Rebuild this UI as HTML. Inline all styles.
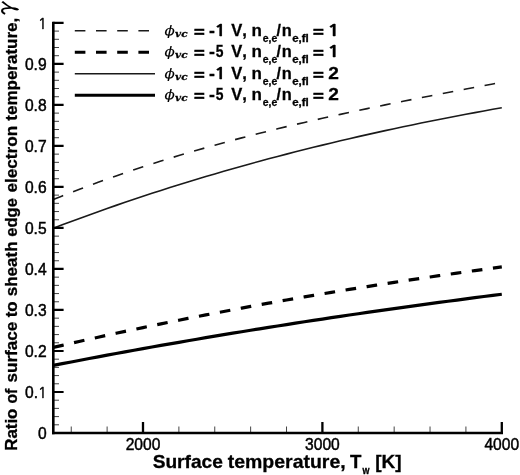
<!DOCTYPE html>
<html><head><meta charset="utf-8"><style>
html,body{margin:0;padding:0;background:#fff;}
svg{display:block;}
text{fill:#000;stroke:#000;stroke-width:0.3px;font-variant-ligatures:none;font-kerning:none;}
.c{fill:none;stroke-linejoin:round;}
.tl{font-family:"Liberation Sans",Arial,sans-serif;font-size:15.6px;stroke-width:0.45px;}
</style></head><body>
<svg width="520" height="475" viewBox="0 0 520 475">
<rect width="520" height="475" fill="#fff"/>
<polyline class="c" points="53.30,199.53 62.27,195.94 71.24,192.43 80.21,188.99 89.18,185.62 98.15,182.32 107.12,179.09 116.09,175.93 125.06,172.84 134.03,169.80 143.00,166.84 151.97,163.93 160.94,161.08 169.91,158.29 178.88,155.56 187.85,152.88 196.82,150.26 205.79,147.68 214.76,145.16 223.73,142.69 232.70,140.27 241.67,137.89 250.64,135.56 259.61,133.27 268.58,131.02 277.55,128.81 286.52,126.64 295.49,124.51 304.46,122.41 313.43,120.35 322.40,118.32 331.37,116.32 340.34,114.35 349.31,112.41 358.28,110.49 367.25,108.60 376.22,106.74 385.19,104.89 394.16,103.07 403.13,101.27 412.10,99.48 421.07,97.71 430.04,95.96 439.01,94.21 447.98,92.48 456.95,90.76 465.92,89.05 474.89,87.34 483.86,85.65 492.83,83.95 501.80,82.26" stroke-width="1.6" stroke="#1a1a1a" stroke-dasharray="10.64 10.64"/>
<polyline class="c" points="53.30,228.24 62.27,224.83 71.24,221.46 80.21,218.15 89.18,214.89 98.15,211.67 107.12,208.50 116.09,205.37 125.06,202.29 134.03,199.26 143.00,196.27 151.97,193.32 160.94,190.42 169.91,187.56 178.88,184.74 187.85,181.97 196.82,179.24 205.79,176.55 214.76,173.90 223.73,171.29 232.70,168.72 241.67,166.19 250.64,163.70 259.61,161.24 268.58,158.83 277.55,156.45 286.52,154.11 295.49,151.80 304.46,149.53 313.43,147.30 322.40,145.10 331.37,142.94 340.34,140.81 349.31,138.71 358.28,136.65 367.25,134.61 376.22,132.61 385.19,130.65 394.16,128.71 403.13,126.80 412.10,124.93 421.07,123.08 430.04,121.27 439.01,119.48 447.98,117.72 456.95,115.98 465.92,114.28 474.89,112.60 483.86,110.95 492.83,109.32 501.80,107.72" stroke-width="1.6" stroke="#1a1a1a"/>
<polyline class="c" points="53.30,347.41 62.27,345.33 71.24,343.27 80.21,341.23 89.18,339.21 98.15,337.22 107.12,335.24 116.09,333.29 125.06,331.36 134.03,329.45 143.00,327.56 151.97,325.69 160.94,323.84 169.91,322.01 178.88,320.21 187.85,318.42 196.82,316.65 205.79,314.90 214.76,313.17 223.73,311.46 232.70,309.77 241.67,308.10 250.64,306.44 259.61,304.81 268.58,303.19 277.55,301.59 286.52,300.01 295.49,298.44 304.46,296.90 313.43,295.37 322.40,293.86 331.37,292.36 340.34,290.88 349.31,289.42 358.28,287.98 367.25,286.55 376.22,285.13 385.19,283.74 394.16,282.36 403.13,280.99 412.10,279.64 421.07,278.30 430.04,276.98 439.01,275.68 447.98,274.39 456.95,273.11 465.92,271.85 474.89,270.60 483.86,269.36 492.83,268.14 501.80,266.94" stroke="#000" stroke-width="3.2" stroke-dasharray="10.64 10.64"/>
<polyline class="c" points="53.30,365.42 62.27,363.68 71.24,361.95 80.21,360.24 89.18,358.54 98.15,356.86 107.12,355.18 116.09,353.53 125.06,351.88 134.03,350.25 143.00,348.63 151.97,347.03 160.94,345.44 169.91,343.87 178.88,342.30 187.85,340.75 196.82,339.22 205.79,337.69 214.76,336.18 223.73,334.69 232.70,333.20 241.67,331.73 250.64,330.27 259.61,328.83 268.58,327.39 277.55,325.97 286.52,324.56 295.49,323.16 304.46,321.78 313.43,320.41 322.40,319.05 331.37,317.70 340.34,316.36 349.31,315.04 358.28,313.73 367.25,312.42 376.22,311.13 385.19,309.86 394.16,308.59 403.13,307.33 412.10,306.09 421.07,304.86 430.04,303.64 439.01,302.42 447.98,301.22 456.95,300.04 465.92,298.86 474.89,297.69 483.86,296.53 492.83,295.39 501.80,294.25" stroke="#000" stroke-width="3.2"/>
<path d="M53.30 433.00H63.6 M53.30 391.99H63.6 M53.30 350.98H63.6 M53.30 309.97H63.6 M53.30 268.96H63.6 M53.30 227.95H63.6 M53.30 186.94H63.6 M53.30 145.93H63.6 M53.30 104.92H63.6 M53.30 63.91H63.6 M53.30 22.90H63.6" stroke="#000" stroke-width="2.2"/>
<path d="M53.30 424.80H59 M53.30 416.60H59 M53.30 408.39H59 M53.30 400.19H59 M53.30 383.79H59 M53.30 375.59H59 M53.30 367.38H59 M53.30 359.18H59 M53.30 342.78H59 M53.30 334.58H59 M53.30 326.37H59 M53.30 318.17H59 M53.30 301.77H59 M53.30 293.57H59 M53.30 285.36H59 M53.30 277.16H59 M53.30 260.76H59 M53.30 252.56H59 M53.30 244.35H59 M53.30 236.15H59 M53.30 219.75H59 M53.30 211.55H59 M53.30 203.34H59 M53.30 195.14H59 M53.30 178.74H59 M53.30 170.54H59 M53.30 162.33H59 M53.30 154.13H59 M53.30 137.73H59 M53.30 129.53H59 M53.30 121.32H59 M53.30 113.12H59 M53.30 96.72H59 M53.30 88.52H59 M53.30 80.31H59 M53.30 72.11H59 M53.30 55.71H59 M53.30 47.51H59 M53.30 39.30H59 M53.30 31.10H59 M71.24 433.00V426.5 M107.12 433.00V426.5 M178.88 433.00V426.5 M214.76 433.00V426.5 M250.64 433.00V426.5 M286.52 433.00V426.5 M358.28 433.00V426.5 M394.16 433.00V426.5 M430.04 433.00V426.5 M465.92 433.00V426.5" stroke="#444" stroke-width="1.0"/>
<path d="M143.00 433.00V422 M322.40 433.00V422 M501.80 433.00V422" stroke="#000" stroke-width="2.3"/>
<path d="M53.30 21.8V434.2" stroke="#000" stroke-width="2.6"/>
<path d="M52 433.0H503" stroke="#000" stroke-width="2.5"/>
<text x="46.6" y="439.40" text-anchor="end" class="tl">0</text>
<text x="47.0" y="398.39" text-anchor="end" class="tl">0.<tspan style="font-family:NanumGothic,sans-serif;font-size:14.7px">1</tspan></text>
<text x="46.6" y="357.38" text-anchor="end" class="tl">0.2</text>
<text x="46.6" y="316.37" text-anchor="end" class="tl">0.3</text>
<text x="46.6" y="275.36" text-anchor="end" class="tl">0.4</text>
<text x="46.6" y="234.35" text-anchor="end" class="tl">0.5</text>
<text x="46.6" y="193.34" text-anchor="end" class="tl">0.6</text>
<text x="46.6" y="152.33" text-anchor="end" class="tl">0.7</text>
<text x="46.6" y="111.32" text-anchor="end" class="tl">0.8</text>
<text x="46.6" y="70.31" text-anchor="end" class="tl">0.9</text>
<text x="47.0" y="29.30" text-anchor="end" class="tl"><tspan style="font-family:NanumGothic,sans-serif;font-size:14.7px">1</tspan></text>
<text x="143.00" y="450.3" text-anchor="middle" class="tl">2000</text>
<text x="322.40" y="450.3" text-anchor="middle" class="tl">3000</text>
<text x="501.80" y="450.3" text-anchor="middle" class="tl">4000</text>
<text><tspan x="152.65" y="468.20" textLength="70.21" lengthAdjust="spacingAndGlyphs" style="font-family:'Liberation Sans',Arial,sans-serif;font-weight:bold;font-size:18.5px;">Surface</tspan> <tspan x="227.76" y="468.20" textLength="117.94" lengthAdjust="spacingAndGlyphs" style="font-family:'Liberation Sans',Arial,sans-serif;font-weight:bold;font-size:18.5px;">temperature,</tspan> <tspan x="350.09" y="468.20" textLength="11.41" lengthAdjust="spacingAndGlyphs" style="font-family:'Liberation Sans',Arial,sans-serif;font-weight:bold;font-size:18.5px;">T</tspan><tspan x="362.53" y="473.60" textLength="6.96" lengthAdjust="spacingAndGlyphs" style="font-family:'Liberation Sans',Arial,sans-serif;font-weight:bold;font-size:10px;">w</tspan> <tspan x="375.23" y="468.20" textLength="26.44" lengthAdjust="spacingAndGlyphs" style="font-family:'Liberation Sans',Arial,sans-serif;font-weight:bold;font-size:18.5px;">[K]</tspan></text>
<g transform="rotate(-90)"><text><tspan x="-450.78" y="17.05" textLength="42.19" lengthAdjust="spacingAndGlyphs" style="font-family:'Liberation Sans',Arial,sans-serif;font-weight:bold;font-size:17px;">Ratio</tspan> <tspan x="-403.46" y="17.05" textLength="14.78" lengthAdjust="spacingAndGlyphs" style="font-family:'Liberation Sans',Arial,sans-serif;font-weight:bold;font-size:17px;">of</tspan> <tspan x="-382.55" y="17.05" textLength="60.89" lengthAdjust="spacingAndGlyphs" style="font-family:'Liberation Sans',Arial,sans-serif;font-weight:bold;font-size:17px;">surface</tspan> <tspan x="-317.36" y="17.05" textLength="15.97" lengthAdjust="spacingAndGlyphs" style="font-family:'Liberation Sans',Arial,sans-serif;font-weight:bold;font-size:17px;">to</tspan> <tspan x="-296.25" y="17.05" textLength="54.85" lengthAdjust="spacingAndGlyphs" style="font-family:'Liberation Sans',Arial,sans-serif;font-weight:bold;font-size:17px;">sheath</tspan> <tspan x="-236.69" y="17.05" textLength="38.51" lengthAdjust="spacingAndGlyphs" style="font-family:'Liberation Sans',Arial,sans-serif;font-weight:bold;font-size:17px;">edge</tspan> <tspan x="-192.62" y="17.05" textLength="66.73" lengthAdjust="spacingAndGlyphs" style="font-family:'Liberation Sans',Arial,sans-serif;font-weight:bold;font-size:17px;">electron</tspan> <tspan x="-120.76" y="17.05" textLength="103.05" lengthAdjust="spacingAndGlyphs" style="font-family:'Liberation Sans',Arial,sans-serif;font-weight:bold;font-size:17px;">temperature,</tspan> <tspan x="-19.50" y="16.34" textLength="23.35" lengthAdjust="spacingAndGlyphs" style="font-family:'IPAGothic','DejaVu Serif',serif;stroke-width:0;font-size:26.5px;">γ</tspan></text></g>
<path d="M74.8 30.80H155" stroke="#1a1a1a" stroke-width="1.6" stroke-dasharray="10.6 10.6"/>
<text><tspan x="164.49" y="35.05" textLength="10.34" lengthAdjust="spacingAndGlyphs" style="font-family:'DejaVu Serif',serif;font-style:italic;stroke-width:0.1px;font-size:13.5px;">ϕ</tspan><tspan x="175.08" y="36.75" textLength="12.49" lengthAdjust="spacingAndGlyphs" style="font-family:'DejaVu Serif',serif;font-weight:bold;font-style:italic;font-size:10px;">vc</tspan> <tspan x="194.14" y="36.75" textLength="10.71" lengthAdjust="spacingAndGlyphs" style="font-family:'Liberation Sans',Arial,sans-serif;font-weight:bold;font-size:15px;stroke-width:0.6px">=</tspan> <tspan x="209.11" y="35.95" textLength="5.90" lengthAdjust="spacingAndGlyphs" style="font-family:'Liberation Sans',Arial,sans-serif;font-weight:bold;font-size:17px;">-</tspan><tspan x="214.13" y="35.95" textLength="12.58" lengthAdjust="spacingAndGlyphs" style="font-family:'NanumGothic','Liberation Sans',sans-serif;font-weight:bold;font-size:15.45px;">1</tspan> <tspan x="231.19" y="35.95" textLength="15.62" lengthAdjust="spacingAndGlyphs" style="font-family:'Liberation Sans',Arial,sans-serif;font-weight:bold;font-size:17px;">V,</tspan> <tspan x="251.38" y="35.95" textLength="10.37" lengthAdjust="spacingAndGlyphs" style="font-family:'Liberation Sans',Arial,sans-serif;font-weight:bold;font-size:17px;">n</tspan><tspan x="262.79" y="41.75" textLength="14.57" lengthAdjust="spacingAndGlyphs" style="font-family:'Liberation Sans',Arial,sans-serif;font-weight:bold;font-size:10px;">e,e</tspan><tspan x="276.44" y="35.95" textLength="4.41" lengthAdjust="spacingAndGlyphs" style="font-family:'Liberation Sans',Arial,sans-serif;font-weight:bold;font-size:17px;">/</tspan><tspan x="281.72" y="35.95" textLength="9.99" lengthAdjust="spacingAndGlyphs" style="font-family:'Liberation Sans',Arial,sans-serif;font-weight:bold;font-size:17px;">n</tspan><tspan x="292.15" y="41.75" textLength="16.67" lengthAdjust="spacingAndGlyphs" style="font-family:'Liberation Sans',Arial,sans-serif;font-weight:bold;font-size:10px;">e,fl</tspan> <tspan x="312.93" y="36.75" textLength="10.83" lengthAdjust="spacingAndGlyphs" style="font-family:'Liberation Sans',Arial,sans-serif;font-weight:bold;font-size:15px;stroke-width:0.6px">=</tspan> <tspan x="327.08" y="35.95" textLength="13.30" lengthAdjust="spacingAndGlyphs" style="font-family:'NanumGothic','Liberation Sans',sans-serif;font-weight:bold;font-size:15.45px;">1</tspan></text>
<path d="M74.8 52.20H155" stroke="#000" stroke-width="3.1" stroke-dasharray="10.6 10.6"/>
<text><tspan x="164.49" y="56.45" textLength="10.34" lengthAdjust="spacingAndGlyphs" style="font-family:'DejaVu Serif',serif;font-style:italic;stroke-width:0.1px;font-size:13.5px;">ϕ</tspan><tspan x="175.08" y="58.15" textLength="12.49" lengthAdjust="spacingAndGlyphs" style="font-family:'DejaVu Serif',serif;font-weight:bold;font-style:italic;font-size:10px;">vc</tspan> <tspan x="194.14" y="58.15" textLength="10.71" lengthAdjust="spacingAndGlyphs" style="font-family:'Liberation Sans',Arial,sans-serif;font-weight:bold;font-size:15px;stroke-width:0.6px">=</tspan> <tspan x="209.11" y="57.35" textLength="5.90" lengthAdjust="spacingAndGlyphs" style="font-family:'Liberation Sans',Arial,sans-serif;font-weight:bold;font-size:17px;">-</tspan><tspan x="215.87" y="57.35" textLength="7.71" lengthAdjust="spacingAndGlyphs" style="font-family:'Liberation Sans',Arial,sans-serif;font-weight:bold;font-size:17px;">5</tspan> <tspan x="231.19" y="57.35" textLength="15.62" lengthAdjust="spacingAndGlyphs" style="font-family:'Liberation Sans',Arial,sans-serif;font-weight:bold;font-size:17px;">V,</tspan> <tspan x="251.38" y="57.35" textLength="10.37" lengthAdjust="spacingAndGlyphs" style="font-family:'Liberation Sans',Arial,sans-serif;font-weight:bold;font-size:17px;">n</tspan><tspan x="262.79" y="63.15" textLength="14.57" lengthAdjust="spacingAndGlyphs" style="font-family:'Liberation Sans',Arial,sans-serif;font-weight:bold;font-size:10px;">e,e</tspan><tspan x="276.44" y="57.35" textLength="4.41" lengthAdjust="spacingAndGlyphs" style="font-family:'Liberation Sans',Arial,sans-serif;font-weight:bold;font-size:17px;">/</tspan><tspan x="281.72" y="57.35" textLength="9.99" lengthAdjust="spacingAndGlyphs" style="font-family:'Liberation Sans',Arial,sans-serif;font-weight:bold;font-size:17px;">n</tspan><tspan x="292.15" y="63.15" textLength="16.67" lengthAdjust="spacingAndGlyphs" style="font-family:'Liberation Sans',Arial,sans-serif;font-weight:bold;font-size:10px;">e,fl</tspan> <tspan x="312.93" y="58.15" textLength="10.83" lengthAdjust="spacingAndGlyphs" style="font-family:'Liberation Sans',Arial,sans-serif;font-weight:bold;font-size:15px;stroke-width:0.6px">=</tspan> <tspan x="327.08" y="57.35" textLength="13.30" lengthAdjust="spacingAndGlyphs" style="font-family:'NanumGothic','Liberation Sans',sans-serif;font-weight:bold;font-size:15.45px;">1</tspan></text>
<path d="M74.8 73.80H155" stroke="#1a1a1a" stroke-width="1.6" />
<text><tspan x="164.49" y="77.90" textLength="10.34" lengthAdjust="spacingAndGlyphs" style="font-family:'DejaVu Serif',serif;font-style:italic;stroke-width:0.1px;font-size:13.5px;">ϕ</tspan><tspan x="175.08" y="79.60" textLength="12.49" lengthAdjust="spacingAndGlyphs" style="font-family:'DejaVu Serif',serif;font-weight:bold;font-style:italic;font-size:10px;">vc</tspan> <tspan x="194.14" y="79.60" textLength="10.71" lengthAdjust="spacingAndGlyphs" style="font-family:'Liberation Sans',Arial,sans-serif;font-weight:bold;font-size:15px;stroke-width:0.6px">=</tspan> <tspan x="209.11" y="78.80" textLength="5.90" lengthAdjust="spacingAndGlyphs" style="font-family:'Liberation Sans',Arial,sans-serif;font-weight:bold;font-size:17px;">-</tspan><tspan x="214.13" y="78.80" textLength="12.58" lengthAdjust="spacingAndGlyphs" style="font-family:'NanumGothic','Liberation Sans',sans-serif;font-weight:bold;font-size:15.45px;">1</tspan> <tspan x="231.19" y="78.80" textLength="15.62" lengthAdjust="spacingAndGlyphs" style="font-family:'Liberation Sans',Arial,sans-serif;font-weight:bold;font-size:17px;">V,</tspan> <tspan x="251.38" y="78.80" textLength="10.37" lengthAdjust="spacingAndGlyphs" style="font-family:'Liberation Sans',Arial,sans-serif;font-weight:bold;font-size:17px;">n</tspan><tspan x="262.79" y="84.60" textLength="14.57" lengthAdjust="spacingAndGlyphs" style="font-family:'Liberation Sans',Arial,sans-serif;font-weight:bold;font-size:10px;">e,e</tspan><tspan x="276.44" y="78.80" textLength="4.41" lengthAdjust="spacingAndGlyphs" style="font-family:'Liberation Sans',Arial,sans-serif;font-weight:bold;font-size:17px;">/</tspan><tspan x="281.72" y="78.80" textLength="9.99" lengthAdjust="spacingAndGlyphs" style="font-family:'Liberation Sans',Arial,sans-serif;font-weight:bold;font-size:17px;">n</tspan><tspan x="292.15" y="84.60" textLength="16.67" lengthAdjust="spacingAndGlyphs" style="font-family:'Liberation Sans',Arial,sans-serif;font-weight:bold;font-size:10px;">e,fl</tspan> <tspan x="312.93" y="79.60" textLength="10.83" lengthAdjust="spacingAndGlyphs" style="font-family:'Liberation Sans',Arial,sans-serif;font-weight:bold;font-size:15px;stroke-width:0.6px">=</tspan> <tspan x="328.34" y="78.80" textLength="10.63" lengthAdjust="spacingAndGlyphs" style="font-family:'Liberation Sans',Arial,sans-serif;font-weight:bold;font-size:17px;">2</tspan></text>
<path d="M74.8 95.20H155" stroke="#000" stroke-width="3.1" />
<text><tspan x="164.49" y="99.30" textLength="10.34" lengthAdjust="spacingAndGlyphs" style="font-family:'DejaVu Serif',serif;font-style:italic;stroke-width:0.1px;font-size:13.5px;">ϕ</tspan><tspan x="175.08" y="101.00" textLength="12.49" lengthAdjust="spacingAndGlyphs" style="font-family:'DejaVu Serif',serif;font-weight:bold;font-style:italic;font-size:10px;">vc</tspan> <tspan x="194.14" y="101.00" textLength="10.71" lengthAdjust="spacingAndGlyphs" style="font-family:'Liberation Sans',Arial,sans-serif;font-weight:bold;font-size:15px;stroke-width:0.6px">=</tspan> <tspan x="209.11" y="100.20" textLength="5.90" lengthAdjust="spacingAndGlyphs" style="font-family:'Liberation Sans',Arial,sans-serif;font-weight:bold;font-size:17px;">-</tspan><tspan x="215.87" y="100.20" textLength="7.71" lengthAdjust="spacingAndGlyphs" style="font-family:'Liberation Sans',Arial,sans-serif;font-weight:bold;font-size:17px;">5</tspan> <tspan x="231.19" y="100.20" textLength="15.62" lengthAdjust="spacingAndGlyphs" style="font-family:'Liberation Sans',Arial,sans-serif;font-weight:bold;font-size:17px;">V,</tspan> <tspan x="251.38" y="100.20" textLength="10.37" lengthAdjust="spacingAndGlyphs" style="font-family:'Liberation Sans',Arial,sans-serif;font-weight:bold;font-size:17px;">n</tspan><tspan x="262.79" y="106.00" textLength="14.57" lengthAdjust="spacingAndGlyphs" style="font-family:'Liberation Sans',Arial,sans-serif;font-weight:bold;font-size:10px;">e,e</tspan><tspan x="276.44" y="100.20" textLength="4.41" lengthAdjust="spacingAndGlyphs" style="font-family:'Liberation Sans',Arial,sans-serif;font-weight:bold;font-size:17px;">/</tspan><tspan x="281.72" y="100.20" textLength="9.99" lengthAdjust="spacingAndGlyphs" style="font-family:'Liberation Sans',Arial,sans-serif;font-weight:bold;font-size:17px;">n</tspan><tspan x="292.15" y="106.00" textLength="16.67" lengthAdjust="spacingAndGlyphs" style="font-family:'Liberation Sans',Arial,sans-serif;font-weight:bold;font-size:10px;">e,fl</tspan> <tspan x="312.93" y="101.00" textLength="10.83" lengthAdjust="spacingAndGlyphs" style="font-family:'Liberation Sans',Arial,sans-serif;font-weight:bold;font-size:15px;stroke-width:0.6px">=</tspan> <tspan x="328.34" y="100.20" textLength="10.63" lengthAdjust="spacingAndGlyphs" style="font-family:'Liberation Sans',Arial,sans-serif;font-weight:bold;font-size:17px;">2</tspan></text>
</svg>
</body></html>
